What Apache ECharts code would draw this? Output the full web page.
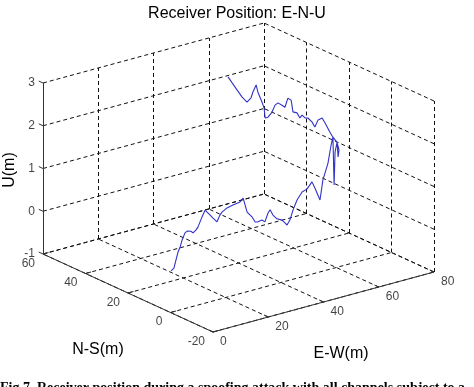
<!DOCTYPE html>
<html>
<head>
<meta charset="utf-8">
<script src="https://cdn.jsdelivr.net/npm/echarts@6/dist/echarts.min.js"></script>
<style>html,body{margin:0;padding:0;background:#fff;}#c{width:474px;height:387px;}</style>
</head>
<body>
<div id="c"></div>
<script>
// ---- data (E-W, N-S, U in metres) ----
const eastM = [0.2,1.4,2.3,3.2,4.1,4.9,6.1,7.0,7.5,8.7,9.6,10.8,11.7,13.3,14.5,15.7,17.7,19.3,20.5,21.4,23.4,25.7,28.4,29.6,31.2,33.1,34.4,35.6,37.2,38.4,39.7,40.5,41.7,43.3,45.3,46.5,47.4,48.6,49.9,51.5,53.4,55.3,57.3,58.5,60.5,61.7,63.7,65.0,65.8,66.3,66.8,67.7,68.2,68.7,68.7,68.1,67.8,66.8,66.5,65.9,65.5,65.2,64.5,64.3,64.0,64.0,63.7,63.1,63.2,62.8,62.5,62.2,61.6,61.3,61.0,60.3,60.1,60.5,60.5,59.8,60.0,59.6,59.7,59.0,58.0,57.0,56.0,55.3];
const northM = [0,0.2,0.4,0.6,0.8,0.9,1.1,1.3,1.5,1.7,1.9,2.1,2.3,2.5,2.6,2.8,3.0,3.2,3.4,3.6,3.8,4.0,4.2,4.3,4.5,4.7,4.9,5.1,5.3,5.5,5.7,5.8,6.0,6.2,6.4,6.6,6.8,7.0,7.2,7.4,7.5,7.7,7.9,8.1,8.3,8.5,8.7,8.9,9.1,9.2,9.4,9.6,9.8,10.0,11.0,12.1,13.1,14.1,15.1,16.2,17.2,18.2,19.2,20.3,21.3,22.3,23.3,24.4,25.4,26.4,27.4,28.4,29.5,30.5,31.5,32.5,33.6,34.6,35.6,36.6,37.7,38.7,39.7,40.7,41.7,42.8,43.8,44.8];
const upM = [-0.03,0.01,0.18,0.35,0.44,0.59,0.73,0.75,0.69,0.71,0.65,0.69,0.74,0.94,1.08,0.99,0.83,0.71,0.84,0.89,0.95,0.97,0.99,1.06,0.70,0.55,0.40,0.38,0.39,0.32,0.50,0.56,0.41,0.29,0.22,0.13,0.06,0.15,0.36,0.56,0.71,0.74,0.87,0.70,0.38,0.82,1.18,1.58,1.74,0.61,1.37,1.58,1.22,1.37,1.53,1.63,1.73,1.94,2.04,1.98,1.80,1.90,1.98,1.96,2.01,1.92,2.02,2.03,2.28,2.31,2.08,2.11,2.15,2.08,1.90,1.77,1.73,1.93,2.05,2.27,2.41,2.23,2.07,1.96,2.07,2.23,2.39,2.52];

const eTicks = [0,20,40,60,80];
const nTicks = [-20,0,20,40,60];
const uTicks = [-1,0,1,2,3];

// ---- projection of the 3D box onto the 2D plane ----
const eMin = eTicks[0], eMax = eTicks[eTicks.length-1];
const nMin = nTicks[0], nMax = nTicks[nTicks.length-1];
const uMin = uTicks[0], uMax = uTicks[uTicks.length-1];
const EX = [221, 60], NY = [-170, 78], UZ = [0, 171]; // screen extent of each full axis
function P(e, n, u) {
  const a = (e - eMin) / (eMax - eMin), b = (n - nMin) / (nMax - nMin), c = (u - uMin) / (uMax - uMin);
  return [a*EX[0] + b*NY[0] + c*UZ[0], a*EX[1] + b*NY[1] + c*UZ[1]];
}
function seg(p, q) { return { coords: [P.apply(null, p), P.apply(null, q)] }; }

const gridSegs = [];
eTicks.forEach(e => gridSegs.push(seg([e,nMax,uMin],[e,nMax,uMax])));
uTicks.forEach(u => gridSegs.push(seg([eMin,nMax,u],[eMax,nMax,u])));
nTicks.forEach(n => gridSegs.push(seg([eMax,n,uMin],[eMax,n,uMax])));
uTicks.forEach(u => gridSegs.push(seg([eMax,nMin,u],[eMax,nMax,u])));
eTicks.forEach(e => gridSegs.push(seg([e,nMin,uMin],[e,nMax,uMin])));
nTicks.forEach(n => gridSegs.push(seg([eMin,n,uMin],[eMax,n,uMin])));

const axisSegs = [
  seg([eMin,nMax,uMin],[eMin,nMax,uMax]),
  seg([eMin,nMin,uMin],[eMin,nMax,uMin]),
  seg([eMin,nMin,uMin],[eMax,nMin,uMin])
];
eTicks.forEach(e => axisSegs.push(seg([e,nMin,uMin],[e,nMin+2,uMin])));
nTicks.forEach(n => axisSegs.push(seg([eMin,n,uMin],[eMin+2,n,uMin])));
uTicks.forEach(u => axisSegs.push(seg([eMin,nMax,u],[eMin,nMax+2,u])));

const FONT = 'Liberation Sans, Arial, sans-serif';
function tickLabels(list, fn, offset, align) {
  return {
    type: 'scatter', symbolSize: 0, silent: true,
    data: list.map(t => ({ name: String(t), value: fn(t) })),
    label: { show: true, position: 'inside', formatter: '{b}', offset: offset, align: align,
             verticalAlign: 'middle', color: '#111', fontSize: 12, fontFamily: FONT }
  };
}

const chart = echarts.init(document.getElementById('c'), null, { renderer: 'canvas' });
chart.setOption({
  backgroundColor: '#fff',
  animation: false,
  title: { text: 'Receiver Position: E-N-U', left: 'center', top: 1,
           textStyle: { fontSize: 16, fontWeight: 'normal', color: '#000', fontFamily: FONT } },
  grid: { left: 0, right: 0, top: 0, bottom: 0 },
  xAxis: { type: 'value', min: -213, max: 261, show: false },
  yAxis: { type: 'value', min: -55, max: 332, show: false },
  graphic: [
    { type: 'text', x: 10, y: 170, rotation: Math.PI/2,
      style: { text: 'U(m)', font: '16px ' + FONT, fill: '#000', align: 'center', verticalAlign: 'middle' } },
    { type: 'text', x: 98, y: 350,
      style: { text: 'N-S(m)', font: '16px ' + FONT, fill: '#000', align: 'center', verticalAlign: 'middle' } },
    { type: 'text', x: 341, y: 354,
      style: { text: 'E-W(m)', font: '16px ' + FONT, fill: '#000', align: 'center', verticalAlign: 'middle' } },
    { type: 'text', x: 0, y: 388.5,
      style: { text: 'Fig 7. Receiver position during a spoofing attack with all channels subject to a',
               font: 'bold 14px Liberation Serif, Times New Roman, serif', fill: '#000', align: 'left', verticalAlign: 'middle' } }
  ],
  series: [
    { type: 'lines', coordinateSystem: 'cartesian2d', silent: true, data: gridSegs,
      lineStyle: { color: '#111', width: 1, type: [4, 3], opacity: 1 } },
    { type: 'lines', coordinateSystem: 'cartesian2d', silent: true, data: axisSegs,
      lineStyle: { color: '#333', width: 1, type: 'solid', opacity: 1 } },
    { type: 'line', silent: true, symbol: 'none',
      data: eastM.map((e, i) => P(e, northM[i], upM[i])),
      lineStyle: { color: '#3232c8', width: 1.1 } },
    tickLabels(uTicks, u => P(eMin, nMax, u), [-8, 0], 'right'),
    tickLabels(nTicks, n => P(eMin, n, uMin), [-8, 9.5], 'right'),
    tickLabels(eTicks, e => P(e, nMin, uMin), [7, 10], 'left')
  ]
});
</script>
</body>
</html>
